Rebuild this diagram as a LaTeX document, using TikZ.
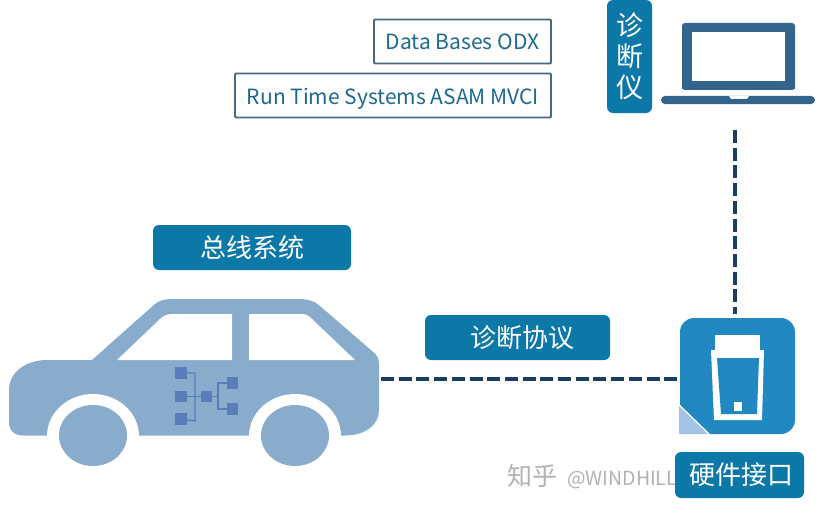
\documentclass[tikz,border=0pt]{standalone}
\usepackage{fontspec}
\setmainfont{Noto Sans}
\newfontfamily\cjk{Noto Sans CJK SC}
\usetikzlibrary{positioning}
\definecolor{labelblue}{RGB}{12,120,168}
\definecolor{framegray}{RGB}{72,104,130}
\definecolor{textblue}{RGB}{30,105,140}
\definecolor{laptopblue}{RGB}{50,100,140}
\definecolor{carblue}{RGB}{137,172,205}
\definecolor{netblue}{RGB}{90,125,185}
\definecolor{dashnavy}{RGB}{25,62,98}
\definecolor{vciblue}{RGB}{33,136,194}
\definecolor{cornerblue}{RGB}{160,195,230}
\begin{document}
\begin{tikzpicture}[x=1pt,y=-1pt,
        tag/.style={rectangle, fill=labelblue, rounded corners=6pt, text=white, align=center, font=\cjk\fontsize{26}{30}\selectfont, inner sep=0pt},
        frame/.style={rectangle, draw=framegray, line width=1.8pt, rounded corners=1pt, fill=white, text=textblue, font=\cjk\fontsize{21}{25}\selectfont, inner sep=0pt, text height=17pt, text depth=0pt},
        ecu/.style={rectangle, fill=netblue, minimum size=11.5pt, inner sep=0pt},
        bus/.style={draw=netblue, line width=1.4pt},
        link/.style={draw=dashnavy, line width=4pt, dash pattern=on 13pt off 4.7pt}
    ]
        \useasboundingbox (0,0) rectangle (817,511);
        \fill[white] (0,0) rectangle (817,511);

        % text boxes top
        \node[frame, minimum width=177pt, minimum height=44pt] (odx) at (462.5,41.5) {Data Bases ODX};
        \node[frame, minimum width=316pt, minimum height=44pt] (mvci) at (393,95.5) {Run Time Systems ASAM MVCI};
        \node[tag, minimum width=45pt, minimum height=113pt, font=\cjk\fontsize{27}{31}\selectfont] (tester) at (629.5,56.5) {\raisebox{-1.5pt}{诊}\\\raisebox{-1.5pt}{断}\\\raisebox{-1.5pt}{仪}};

        % laptop
        \fill[laptopblue, rounded corners=3pt] (682,23) rectangle (795,90);
        \fill[laptopblue] (682,80) rectangle (795,89);
        \fill[white] (692,32) rectangle (785,81);
        \fill[laptopblue, rounded corners=4pt] (661,96) -- (661,104) -- (815,104) -- (815,96) -- cycle;
        \fill[white] (729,96) -- (749,96) -- (747,99) -- (731,99) -- cycle;
        \coordinate (laptopbase) at (735,130);

        % car
        \node[tag, minimum width=198pt, minimum height=45pt] (bussys) at (252,247.5) {总线系统};
        \fill[carblue] (24,435.5) .. controls (13,435.5) and (9,430) .. (9,422) -- (9,390)
            .. controls (9,372) and (26,360) .. (47,360) -- (92,360) -- (155,304)
            .. controls (160,300) and (165,299) .. (175,299) -- (298,299)
            .. controls (308,299) and (315,301) .. (320,306) -- (372,351)
            .. controls (377,355) and (379,358) .. (379,364) -- (379,410)
            .. controls (379,425) and (365,435.5) .. (345,435.5) -- cycle;
        \fill[white] (47,436) arc[start angle=180, end angle=360, x radius=46, y radius=42] -- cycle;
        \fill[white] (249,436) arc[start angle=180, end angle=360, x radius=46, y radius=42] -- cycle;
        \fill[carblue] (93,435.5) ellipse[x radius=34, y radius=30.5];
        \fill[carblue] (295,435.5) ellipse[x radius=34, y radius=30.5];
        \fill[white] (117,360) -- (160,319) .. controls (163,316) and (167,314) .. (172,314) -- (232,314) -- (232,360) -- cycle;
        \fill[white] (249,314) -- (302,314) .. controls (306,314) and (309,316) .. (312,319) -- (355,360) -- (249,360) -- cycle;

        % network inside the car
        \node[ecu] (ecua) at (181,373) {};
        \node[ecu] (ecub) at (181,396.5) {};
        \node[ecu] (ecuc) at (181,419) {};
        \node[ecu] (hub) at (206.5,396.5) {};
        \node[ecu] (ecud) at (232.5,383) {};
        \node[ecu] (ecue) at (232.5,409) {};
        \draw[bus] (ecua) -- (195,373) -- (195,421) -- (ecuc);
        \draw[bus] (ecub) -- (hub);
        \draw[bus] (hub) -- (218,396.5);
        \draw[bus] (ecud) -- (218,383) -- (218,409) -- (ecue);

        % vci
        \fill[vciblue, rounded corners=14pt] (680,318) rectangle (795,434);
        \fill[white] (678,403) -- (712,436) -- (678,436) -- cycle;
        \fill[cornerblue] (679,406) -- (679,434) -- (708,434) -- cycle;
        \fill[white] (715,335) rectangle (760,350);
        \fill[white] (711,350) -- (764,350) -- (762,420) -- (714,420) -- cycle;
        \fill[vciblue] (717,358) -- (759,358) -- (757,414) -- (721,414) -- cycle;
        \fill[white] (734,402) rectangle (742,411);
        \node[minimum width=115pt, minimum height=116pt, inner sep=0pt] (vci) at (737.5,376) {};

        % connectors
        \coordinate (carend) at (381,379);
        \draw[link, shorten >=2pt] (carend) -- (vci.west |- carend);
        \draw[link, shorten >=4pt] (laptopbase) -- (laptopbase |- vci.north);

        \node[tag, minimum width=185pt, minimum height=45pt] (protocol) at (517.5,337.5) {\hspace*{9pt}诊断协议};
        \node[text=gray!60, font=\cjk, inner sep=0pt, anchor=west] (mark) at (507,477) {\fontsize{25}{28}\selectfont 知乎\hspace{10pt}\fontsize{19.5}{28}\selectfont @WINDHILL};
        \node[tag, minimum width=129pt, minimum height=46pt] (hwlabel) at (739.5,475) {\hspace*{3pt}硬件接口};
    \end{tikzpicture}
\end{document}
